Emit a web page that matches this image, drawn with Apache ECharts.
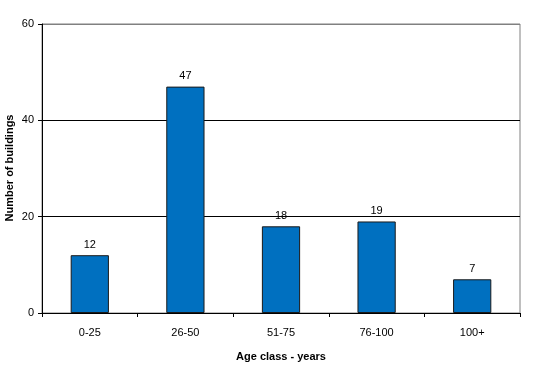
<!DOCTYPE html>
<html><head><meta charset="utf-8">
<script src="https://cdn.jsdelivr.net/npm/echarts@6/dist/echarts.min.js"></script>
<style>html,body{margin:0;padding:0;background:#fff}#c{width:548px;height:367px}</style>
</head><body><div id="c"></div>
<script>
const categories = ['0-25', '26-50', '51-75', '76-100', '100+'];
const buildings = [12, 47, 18, 19, 7];
const yTicks = [0, 20, 40, 60];
const xTitle = 'Age class - years';
const yTitle = 'Number of buildings';

const chart = echarts.init(document.getElementById('c'), null, {renderer: 'canvas'});
const font = '"Liberation Sans", Arial, sans-serif';
chart.setOption({
  animation: false,
  backgroundColor: '#fff',
  grid: {left: 42, right: 28, top: 24, bottom: 54, show: true, borderColor: '#808080', borderWidth: 1,
         containLabel: false, outerBoundsMode: 'none'},
  graphic: [{
    type: 'text', x: 10, y: 168, rotation: Math.PI / 2,
    style: {text: yTitle, fontFamily: font, fontSize: 11, fontWeight: 'bold', fill: '#000',
            align: 'center', verticalAlign: 'middle'}
  }],
  xAxis: {
    type: 'category', data: categories,
    name: xTitle, nameLocation: 'middle', nameGap: 38,
    nameTextStyle: {fontFamily: font, fontSize: 11, fontWeight: 'bold', color: '#000'},
    axisLine: {lineStyle: {color: '#000', width: 1}},
    axisTick: {show: true, length: 4, alignWithLabel: false, lineStyle: {color: '#000'}},
    axisLabel: {fontFamily: font, fontSize: 11, color: '#000', margin: 14}
  },
  yAxis: {
    type: 'value', min: yTicks[0], max: yTicks[yTicks.length - 1], interval: 20,
    axisLine: {show: true, lineStyle: {color: '#000', width: 1}},
    axisTick: {show: true, length: 4, lineStyle: {color: '#000'}},
    axisLabel: {fontFamily: font, fontSize: 11, color: '#000', margin: 8},
    splitLine: {show: true, lineStyle: {color: ['#000', '#000', '#000', '#808080'], width: 1}}
  },
  series: [{
    type: 'bar', data: buildings, barCategoryGap: '60%',
    itemStyle: {color: '#0070C0', borderColor: '#1a1a1a', borderWidth: 1},
    label: {show: true, position: 'top', distance: 5, fontFamily: font, fontSize: 11, color: '#000'}
  }]
});
</script></body></html>
